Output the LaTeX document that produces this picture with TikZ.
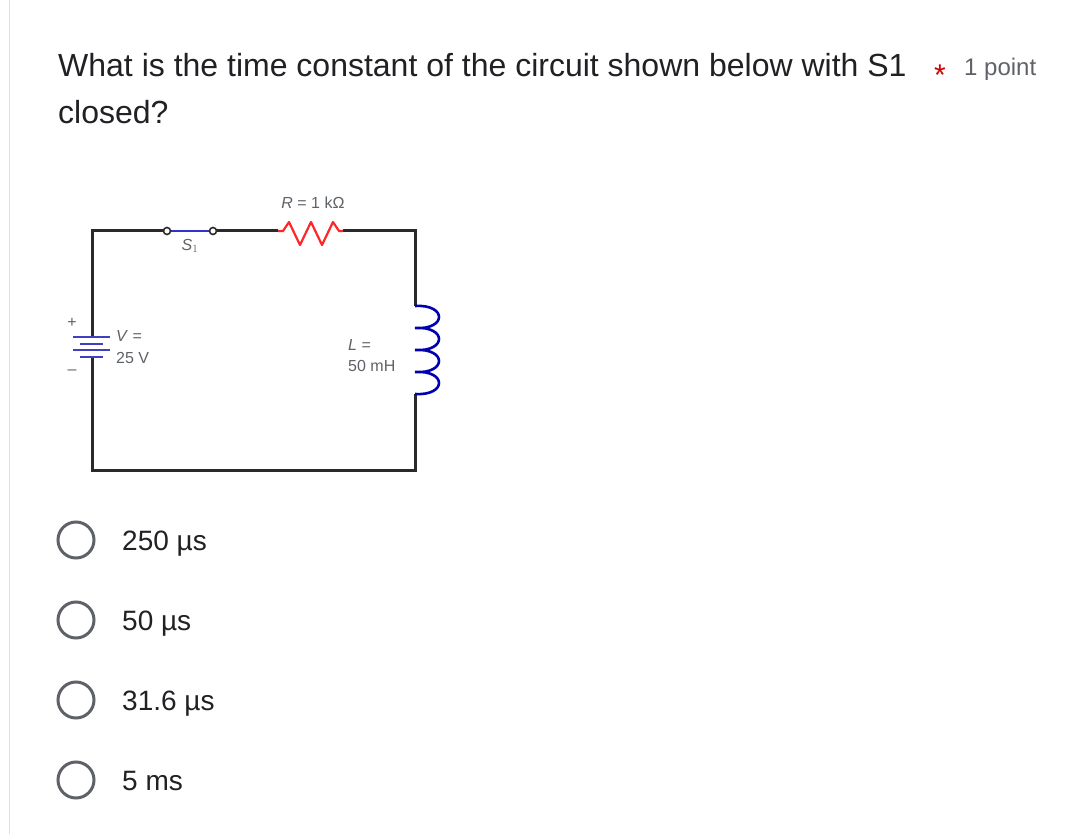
\documentclass[tikz,border=0pt]{standalone}
\usepackage{fontspec}
\setmainfont{Liberation Sans}
\usetikzlibrary{decorations.pathmorphing}
\definecolor{txt}{HTML}{202124}
\definecolor{gr}{HTML}{5F6368}
\definecolor{wire}{HTML}{2A2A2A}
\tikzset{wirel/.style={draw=wire,line width=3pt},
 q/.style={anchor=base west,text=txt,font=\fontsize{32}{36}\selectfont,inner sep=0},
 opt/.style={anchor=base west,text=txt,font=\fontsize{28}{32}\selectfont,inner sep=0},
 radio/.style={draw=gr,line width=3pt,circle,minimum size=36pt,inner sep=0},
 lab/.style={text=gr,font=\fontsize{16}{18}\selectfont,inner sep=0}}
\begin{document}
\begin{tikzpicture}[x=1pt,y=-1pt]
\useasboundingbox[fill=white] (0,0) rectangle (1066,834);
\draw[gray!25,line width=1pt] (9,0) -- (9,834);
\node[q] (q1) at (58,77) {What is the time constant of the circuit shown below with S1};
\node[anchor=base west,text=red!80!black,font=\fontsize{30}{32}\selectfont,inner sep=0] (st) at (934,86) {*};
\node[anchor=base west,text=gr,font=\fontsize{24}{26}\selectfont,inner sep=0] (pt) at (964,76) {1 point};
\node[q] (q2) at (58,124) {closed?};
% circuit
\coordinate (tl) at (92,231); \coordinate (tr) at (415,231);
\coordinate (bl) at (92,470); \coordinate (br) at (415,470);
\coordinate (s1) at (167,231); \coordinate (s2) at (213,231);
\coordinate (r1) at (278,231); \coordinate (r2) at (343,231);
\coordinate (l1) at (415,306); \coordinate (l2) at (415,394);
\coordinate (b1) at (92,337); \coordinate (b2) at (92,357);
\draw[wirel] (b1) -- (tl) -- (s1);
\draw[wirel] (s2) -- (r1);
\draw[wirel] (r2) -- (tr) -- (l1);
\draw[wirel] (l2) -- (br) -- (bl) -- (b2);
\draw[blue!60!gray,line width=1.3pt] (s1) -- (s2);
\draw[wire,line width=1.6pt,fill=white] (s1) circle (3.5) (s2) circle (3.5);
\draw[red!85!white,line width=2.2pt,line join=round] (r1) -- (283,231) -- (289,222) -- (300,245) -- (311,222) -- (322,245) -- (333,222) -- (339,231) -- (r2);
\draw[blue!70!black,line width=2.6pt] (l1)
 .. controls (447,304) and (447,330) .. (415,328)
 .. controls (447,326) and (447,352) .. (415,350)
 .. controls (447,348) and (447,374) .. (415,372)
 .. controls (447,370) and (447,396) .. (l2);
\draw[blue!50!gray,line width=2.2pt] (73,337)--(110,337) (80,344)--(103,344) (73,350)--(110,350) (80,357)--(103,357);
\node[lab] (plus) at (72,323) {+};
\node[lab] (minus) at (72,372) {--};
\node[lab,anchor=west] (vl) at (116,336) {\textit{V} =};
\node[lab,anchor=west] (vv) at (116,358) {25 V};
\node[lab] (rl) at (313,203) {\textit{R} = 1 kΩ};
\node[lab] (sl) at (190,246) {\textit{S}$_1$};
\node[lab,anchor=west] (ll) at (348,345) {\textit{L} =};
\node[lab,anchor=west] (lv) at (348,366) {50 mH};
% options
\foreach \y/\t [count=\i] in {540/250 µs,620/50 µs,700/31.6 µs,780/5 ms}{
 \node[radio] (r\i) at (76,\y) {};
 \node[opt] (o\i) at (122,\y+10) {\t};
}
\end{tikzpicture}
\end{document}
